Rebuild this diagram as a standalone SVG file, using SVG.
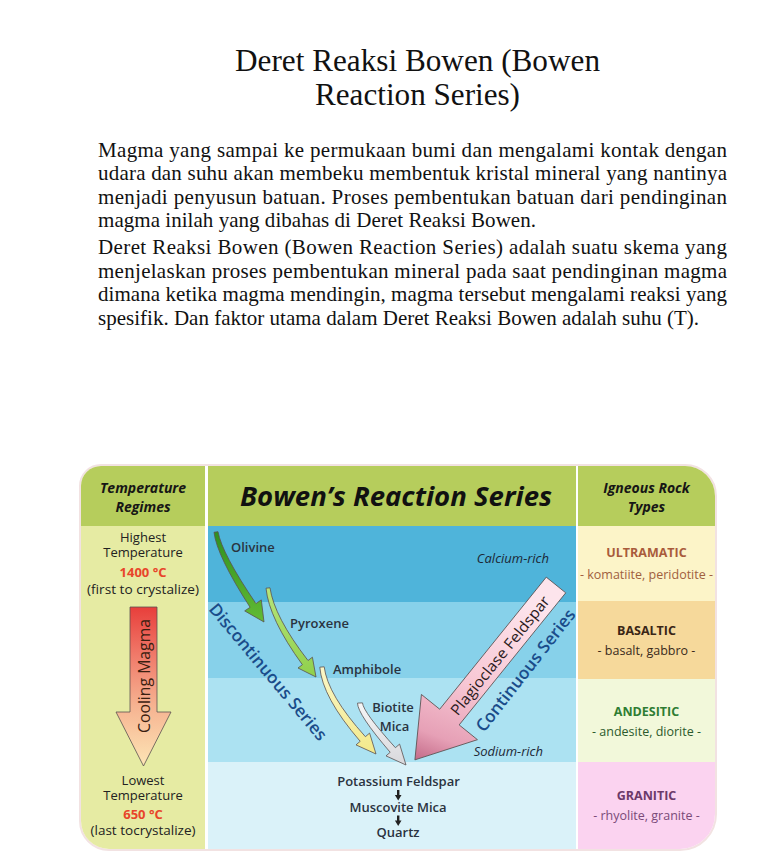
<svg xmlns="http://www.w3.org/2000/svg" width="768" height="866" viewBox="0 0 768 866">
<defs>
<style>
.ser{font-family:"Liberation Serif","Times New Roman",serif;fill:#111}
.tt{font-size:31px;text-anchor:middle}
.p{font-size:21px}
.d{font-family:"Open Sans","Liberation Sans",sans-serif}
.hd{font-size:14px;font-weight:700;font-style:italic;fill:#161616;text-anchor:middle}
.lt{font-size:13px;fill:#222;text-anchor:middle}
.tc{font-size:13px;font-weight:700;fill:#e8452a;text-anchor:middle}
.lbl{font-size:13px;font-weight:600;fill:#2a3340}
.it{font-size:13px;font-style:italic;fill:#1c2836}
.rk{font-size:12.5px;font-weight:700;text-anchor:middle}
.rs{font-size:12.5px;text-anchor:middle}
.sr{font-size:17px;font-weight:600;fill:#1a4c8a;text-anchor:middle;dominant-baseline:central}
.ar{stroke:#5a5050;stroke-width:0.8;stroke-linejoin:round}
</style>
<clipPath id="chartClip">
<path d="M101,466 H685 A30,30 0 0 1 715,496 V814 A35,35 0 0 1 680,849 H109 A28,28 0 0 1 81,821 V486 A20,20 0 0 1 101,466 Z"/>
</clipPath>
<linearGradient id="gCool" gradientUnits="userSpaceOnUse" x1="0" y1="608" x2="0" y2="766">
<stop offset="0" stop-color="#e8403c"/><stop offset="0.3" stop-color="#f07a6a"/><stop offset="0.62" stop-color="#f6b391"/><stop offset="1" stop-color="#fde5b5"/>
</linearGradient>
<linearGradient id="gPlag" gradientUnits="userSpaceOnUse" x1="40" y1="30" x2="224" y2="-30">
<stop offset="0" stop-color="#fde4ec"/><stop offset="0.5" stop-color="#f7c6d3"/><stop offset="0.8" stop-color="#e6a0b6"/><stop offset="1" stop-color="#b95a7a"/>
</linearGradient>
<linearGradient id="gOl" x1="0" y1="0" x2="0" y2="1"><stop offset="0" stop-color="#2f8f1f"/><stop offset="1" stop-color="#62bb34"/></linearGradient>
<linearGradient id="gPy" x1="0" y1="0" x2="0" y2="1"><stop offset="0" stop-color="#b8e57a"/><stop offset="1" stop-color="#8fd04c"/></linearGradient>
<linearGradient id="gAm" x1="0" y1="0" x2="0" y2="1"><stop offset="0" stop-color="#fbf7c8"/><stop offset="1" stop-color="#f3e98a"/></linearGradient>
<linearGradient id="gBi" x1="0" y1="0" x2="0" y2="1"><stop offset="0" stop-color="#f6f6f6"/><stop offset="1" stop-color="#d8d8dc"/></linearGradient>
</defs>
<rect width="768" height="866" fill="#ffffff"/>

<g id="title" class="ser">
<text class="tt" x="417.5" y="71" textLength="365" lengthAdjust="spacingAndGlyphs">Deret Reaksi Bowen (Bowen</text>
<text class="tt" x="417.5" y="105" textLength="205" lengthAdjust="spacingAndGlyphs">Reaction Series)</text>
</g>
<g id="paragraphs" class="ser p">
<text x="98" y="157" textLength="629" lengthAdjust="spacing">Magma yang sampai ke permukaan bumi dan mengalami kontak dengan</text>
<text x="98" y="180" textLength="629" lengthAdjust="spacing">udara dan suhu akan membeku membentuk kristal mineral yang nantinya</text>
<text x="98" y="204" textLength="629" lengthAdjust="spacing">menjadi penyusun batuan.  Proses pembentukan batuan dari pendinginan</text>
<text x="98" y="227" textLength="438" lengthAdjust="spacing">magma inilah yang dibahas di Deret Reaksi Bowen.</text>
<text x="98" y="254" textLength="629" lengthAdjust="spacing">Deret Reaksi Bowen (Bowen Reaction Series) adalah suatu skema yang</text>
<text x="98" y="278" textLength="629" lengthAdjust="spacing">menjelaskan proses pembentukan mineral pada saat pendinginan magma</text>
<text x="98" y="301" textLength="629" lengthAdjust="spacing">dimana ketika magma mendingin, magma tersebut mengalami reaksi yang</text>
<text x="98" y="325" textLength="601" lengthAdjust="spacing">spesifik. Dan faktor utama dalam Deret Reaksi Bowen adalah suhu (T).</text>
</g>

<path d="M101,466 H685 A30,30 0 0 1 715,496 V814 A35,35 0 0 1 680,849 H109 A28,28 0 0 1 81,821 V486 A20,20 0 0 1 101,466 Z" fill="none" stroke="#f2e2e2" stroke-width="4"/>
<g id="chart" clip-path="url(#chartClip)">
<rect x="75" y="460" width="650" height="395" fill="#ffffff"/>
<g id="col-temp">
<rect id="temp-header" x="75" y="460" width="130" height="66" fill="#b6cd5c"/>
<rect id="temp-body" x="75" y="526" width="130" height="330" fill="#e6eba3"/>
</g>
<g id="col-bowen">
<rect id="bowen-header" x="208" y="460" width="368" height="66" fill="#b6cd5c"/>
<rect id="band-1" x="208" y="526" width="368" height="76" fill="#4fb4da"/>
<rect id="band-2" x="208" y="602" width="368" height="76" fill="#87d1ea"/>
<rect id="band-3" x="208" y="678" width="368" height="84" fill="#ace2f2"/>
<rect id="band-4" x="208" y="762" width="368" height="94" fill="#daf2f9"/>
</g>
<g id="col-rock">
<rect id="rock-header" x="578" y="460" width="145" height="66" fill="#b6cd5c"/>
<rect id="rock-ultramatic" x="578" y="526" width="145" height="75" fill="#fcf4c8"/>
<rect id="rock-basaltic" x="578" y="601" width="145" height="78" fill="#f6d99b"/>
<rect id="rock-andesitic" x="578" y="679" width="145" height="83" fill="#f2f8da"/>
<rect id="rock-granitic" x="578" y="762" width="145" height="94" fill="#fbd3f0"/>
</g>
</g>

<g id="connectors">
<path id="arrow-cooling" class="ar" d="M130,607 H157 V712 H171 L143.5,766 L116,712 H130 Z" fill="url(#gCool)"/>
<path id="arrow-olivine" class="ar" d="M214,532.3 Q216.8,555.7 250.1,607.3 L244.7,610.9 L264,622 L261.3,599.9 L255.9,603.5 Q222,553.7 218,531.7 Z" fill="url(#gOl)" stroke="#2b5a1a"/>
<path id="arrow-pyroxene" class="ar" d="M266,588.2 Q269,618.8 302.4,664.7 L298,668 L316,677 L312.4,657.2 L308,660.5 Q274.2,616.8 270,587.8 Z" fill="url(#gPy)" stroke="#4c7a2c"/>
<path id="arrow-amphibole" class="ar" d="M319.8,667.2 Q322.2,697.2 360.2,741.3 L356,744.9 L376,754 L369.6,733.1 L365.4,736.7 Q327.6,694.8 324.2,666.8 Z" fill="url(#gAm)" stroke="#6b6b50"/>
<path id="arrow-biotite" class="ar" d="M357.5,703.1 Q357.7,714.4 390.2,752.3 L386,755.9 L406,765 L399.6,744.1 L395.4,747.7 Q363.3,712.2 362.5,702.9 Z" fill="url(#gBi)" stroke="#6a6a6a"/>
<g id="arrow-plagioclase" transform="translate(556,585) rotate(128.9)">
<path class="ar" d="M0,-12.5 H169.7 V-36 L224.7,0 L169.7,36 V12.5 H0 Z" fill="url(#gPlag)" stroke="#6a5058"/>
<text class="d" transform="translate(90,0) rotate(180)" text-anchor="middle" dominant-baseline="central" font-size="15" fill="#2a1a20" textLength="148" lengthAdjust="spacingAndGlyphs">Plagioclase Feldspar</text>
</g>
<path id="arrow-kfeld-musc" d="M397,790 H399.4 V795 H401.5 L398.2,800.5 L394.9,795 H397 Z" fill="#222"/>
<path id="arrow-musc-qtz" d="M397,815.5 H399.4 V820.5 H401.5 L398.2,826 L394.9,820.5 H397 Z" fill="#222"/>
</g>

<g id="temp-labels" class="d">
<text class="hd" x="143" y="493">Temperature</text>
<text class="hd" x="143" y="512">Regimes</text>
<text class="lt" x="143" y="542">Highest</text>
<text class="lt" x="143" y="557">Temperature</text>
<text class="tc" x="143" y="577">1400 °C</text>
<text class="lt" x="143" y="594" textLength="112" lengthAdjust="spacingAndGlyphs">(first to crystalize)</text>
<text class="d" transform="translate(143.5,676) rotate(-90)" text-anchor="middle" dominant-baseline="central" font-size="15.5" fill="#3a2010" textLength="114" lengthAdjust="spacingAndGlyphs">Cooling Magma</text>
<text class="lt" x="143" y="785">Lowest</text>
<text class="lt" x="143" y="800">Temperature</text>
<text class="tc" x="143" y="819">650 °C</text>
<text class="lt" x="143" y="835" textLength="105" lengthAdjust="spacingAndGlyphs">(last tocrystalize)</text>
</g>

<g id="bowen-labels" class="d">
<text x="396" y="506" text-anchor="middle" font-size="27" font-weight="700" font-style="italic" fill="#111" textLength="312" lengthAdjust="spacingAndGlyphs">Bowen’s Reaction Series</text>
<text id="lbl-olivine" class="lbl" x="231" y="552">Olivine</text>
<text id="lbl-calcium" class="it" x="549" y="563" text-anchor="end">Calcium-rich</text>
<text id="lbl-pyroxene" class="lbl" x="290" y="628">Pyroxene</text>
<text id="lbl-amphibole" class="lbl" x="333" y="674">Amphibole</text>
<text id="lbl-biotite" class="lbl" x="393" y="712" text-anchor="middle">Biotite</text>
<text id="lbl-mica" class="lbl" x="394.5" y="731" text-anchor="middle">Mica</text>
<text id="lbl-sodium" class="it" x="543" y="756" text-anchor="end">Sodium-rich</text>
<text id="lbl-kfeldspar" class="lbl" x="398.5" y="786" text-anchor="middle">Potassium Feldspar</text>
<text id="lbl-muscovite" class="lbl" x="398" y="812" text-anchor="middle">Muscovite Mica</text>
<text id="lbl-quartz" class="lbl" x="398" y="837" text-anchor="middle">Quartz</text>
<text id="lbl-discontinuous" class="sr" transform="translate(268.5,671.5) rotate(50)" textLength="173" lengthAdjust="spacingAndGlyphs">Discontinuous Series</text>
<text id="lbl-continuous" class="sr" transform="translate(525,670) rotate(-52)" textLength="150" lengthAdjust="spacingAndGlyphs">Continuous Series</text>
</g>

<g id="rock-labels" class="d">
<text class="hd" x="646.5" y="493">Igneous Rock</text>
<text class="hd" x="646.5" y="512">Types</text>
<text class="rk" x="646.5" y="557" fill="#a95b3b">ULTRAMATIC</text>
<text class="rs" x="646.5" y="579" fill="#a0603e">- komatiite, peridotite -</text>
<text class="rk" x="646.5" y="635" fill="#3a2616">BASALTIC</text>
<text class="rs" x="646.5" y="655" fill="#3a2a1c">- basalt, gabbro -</text>
<text class="rk" x="646.5" y="716" fill="#2f7d33">ANDESITIC</text>
<text class="rs" x="646.5" y="736" fill="#2c5a2c">- andesite, diorite -</text>
<text class="rk" x="646.5" y="800" fill="#6c3a6a">GRANITIC</text>
<text class="rs" x="646.5" y="820" fill="#7a4a78">- rhyolite, granite -</text>
</g>
</svg>
